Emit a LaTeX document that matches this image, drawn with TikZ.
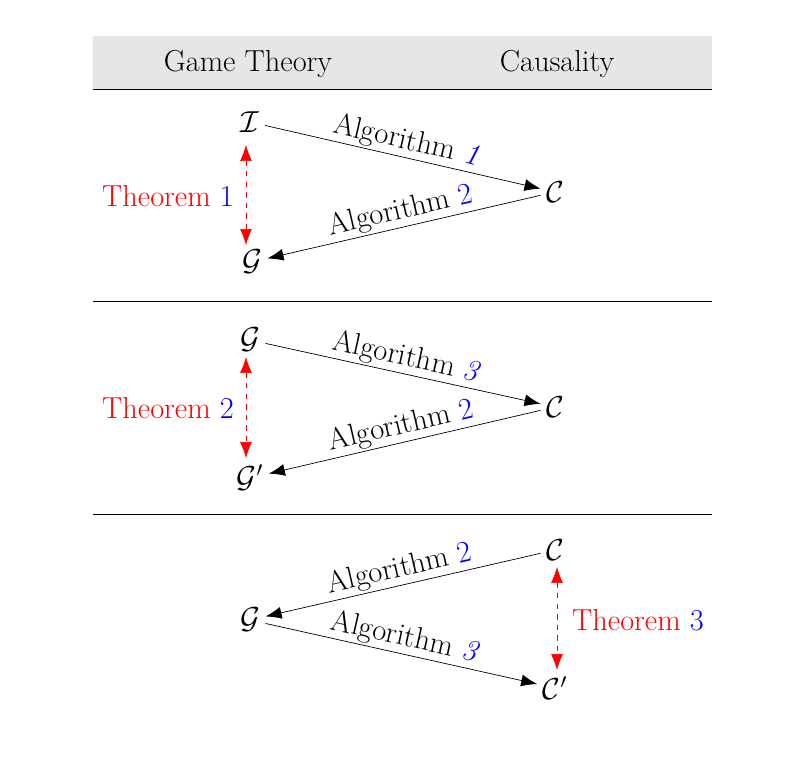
\documentclass[tikz,border=0pt]{standalone}
\usepackage{tikz}
\usetikzlibrary{arrows.meta}
\definecolor{headgray}{RGB}{230,230,230}
\tikzset{
  alg/.style={-{Latex[length=3.2mm,width=2.4mm]},black},
  thm/.style={{Latex[length=3.2mm,width=2.4mm]}-{Latex[length=3.2mm,width=2.4mm]},red,dashed},
  lab/.style={font=\LARGE,sloped,above,inner sep=1pt},
  obj/.style={font=\LARGE,inner sep=3pt}
}
\newcommand{\algo}[1]{Algorithm \textcolor{blue}{#1}}
\newcommand{\thmtext}[1]{\textcolor{red}{Theorem} \textcolor{blue}{#1}}
\begin{document}
\begin{tikzpicture}[x=0.02cm,y=-0.02cm]
    \useasboundingbox (0,0) rectangle (806,770);
    \fill[headgray] (93,36) rectangle (712,89);
    \node[font=\LARGE] (hgame) at (248,64) {Game Theory};
    \node[font=\LARGE] (hcaus) at (557,64) {Causality};
    \foreach \y in {89,301,514}
    \draw[thin] (93,\y) -- (712,\y);
    % first block
    \node[obj] (i1) at (250,122) {$\mathcal{I}$};
    \node[obj] (c1) at (555,192) {$\mathcal{C}$};
    \node[obj] (g1) at (252,262) {$\mathcal{G}$};
    \draw[alg] (i1) -- node[lab] {Algorithm \textcolor{blue}{\textit{1}}} (c1);
    \draw[alg] (c1) -- node[lab] {\algo{2}} (g1);
    \draw[thm] (246,145) coordinate (t1a) -- (246,245) coordinate (t1b);
    \node[font=\LARGE] (t1) at (168,196) {\thmtext{1}};
    % second block
    \node[obj] (g2) at (250,340) {$\mathcal{G}$};
    \node[obj] (c2) at (555,407) {$\mathcal{C}$};
    \node[obj] (gp2) at (250,478) {$\mathcal{G}'$};
    \draw[alg] (g2) -- node[lab] {Algorithm \textcolor{blue}{\textit{3}}} (c2);
    \draw[alg] (c2) -- node[lab] {\algo{2}} (gp2);
    \draw[thm] (246,357) coordinate (t2a) -- (246,458) coordinate (t2b);
    \node[font=\LARGE] (t2) at (168,408) {\thmtext{2}};
    % third block
    \node[obj] (c3) at (555,550) {$\mathcal{C}$};
    \node[obj] (g3) at (250,620) {$\mathcal{G}$};
    \node[obj] (cp3) at (555,688) {$\mathcal{C}'$};
    \draw[alg] (c3) -- node[lab] {\algo{2}} (g3);
    \draw[alg] (g3) -- node[lab] {Algorithm \textcolor{blue}{\textit{3}}} (cp3);
    \draw[thm] (557,567) coordinate (t3a) -- (557,670) coordinate (t3b);
    \node[font=\LARGE] (t3) at (638,620) {\thmtext{3}};
\end{tikzpicture}
\end{document}
